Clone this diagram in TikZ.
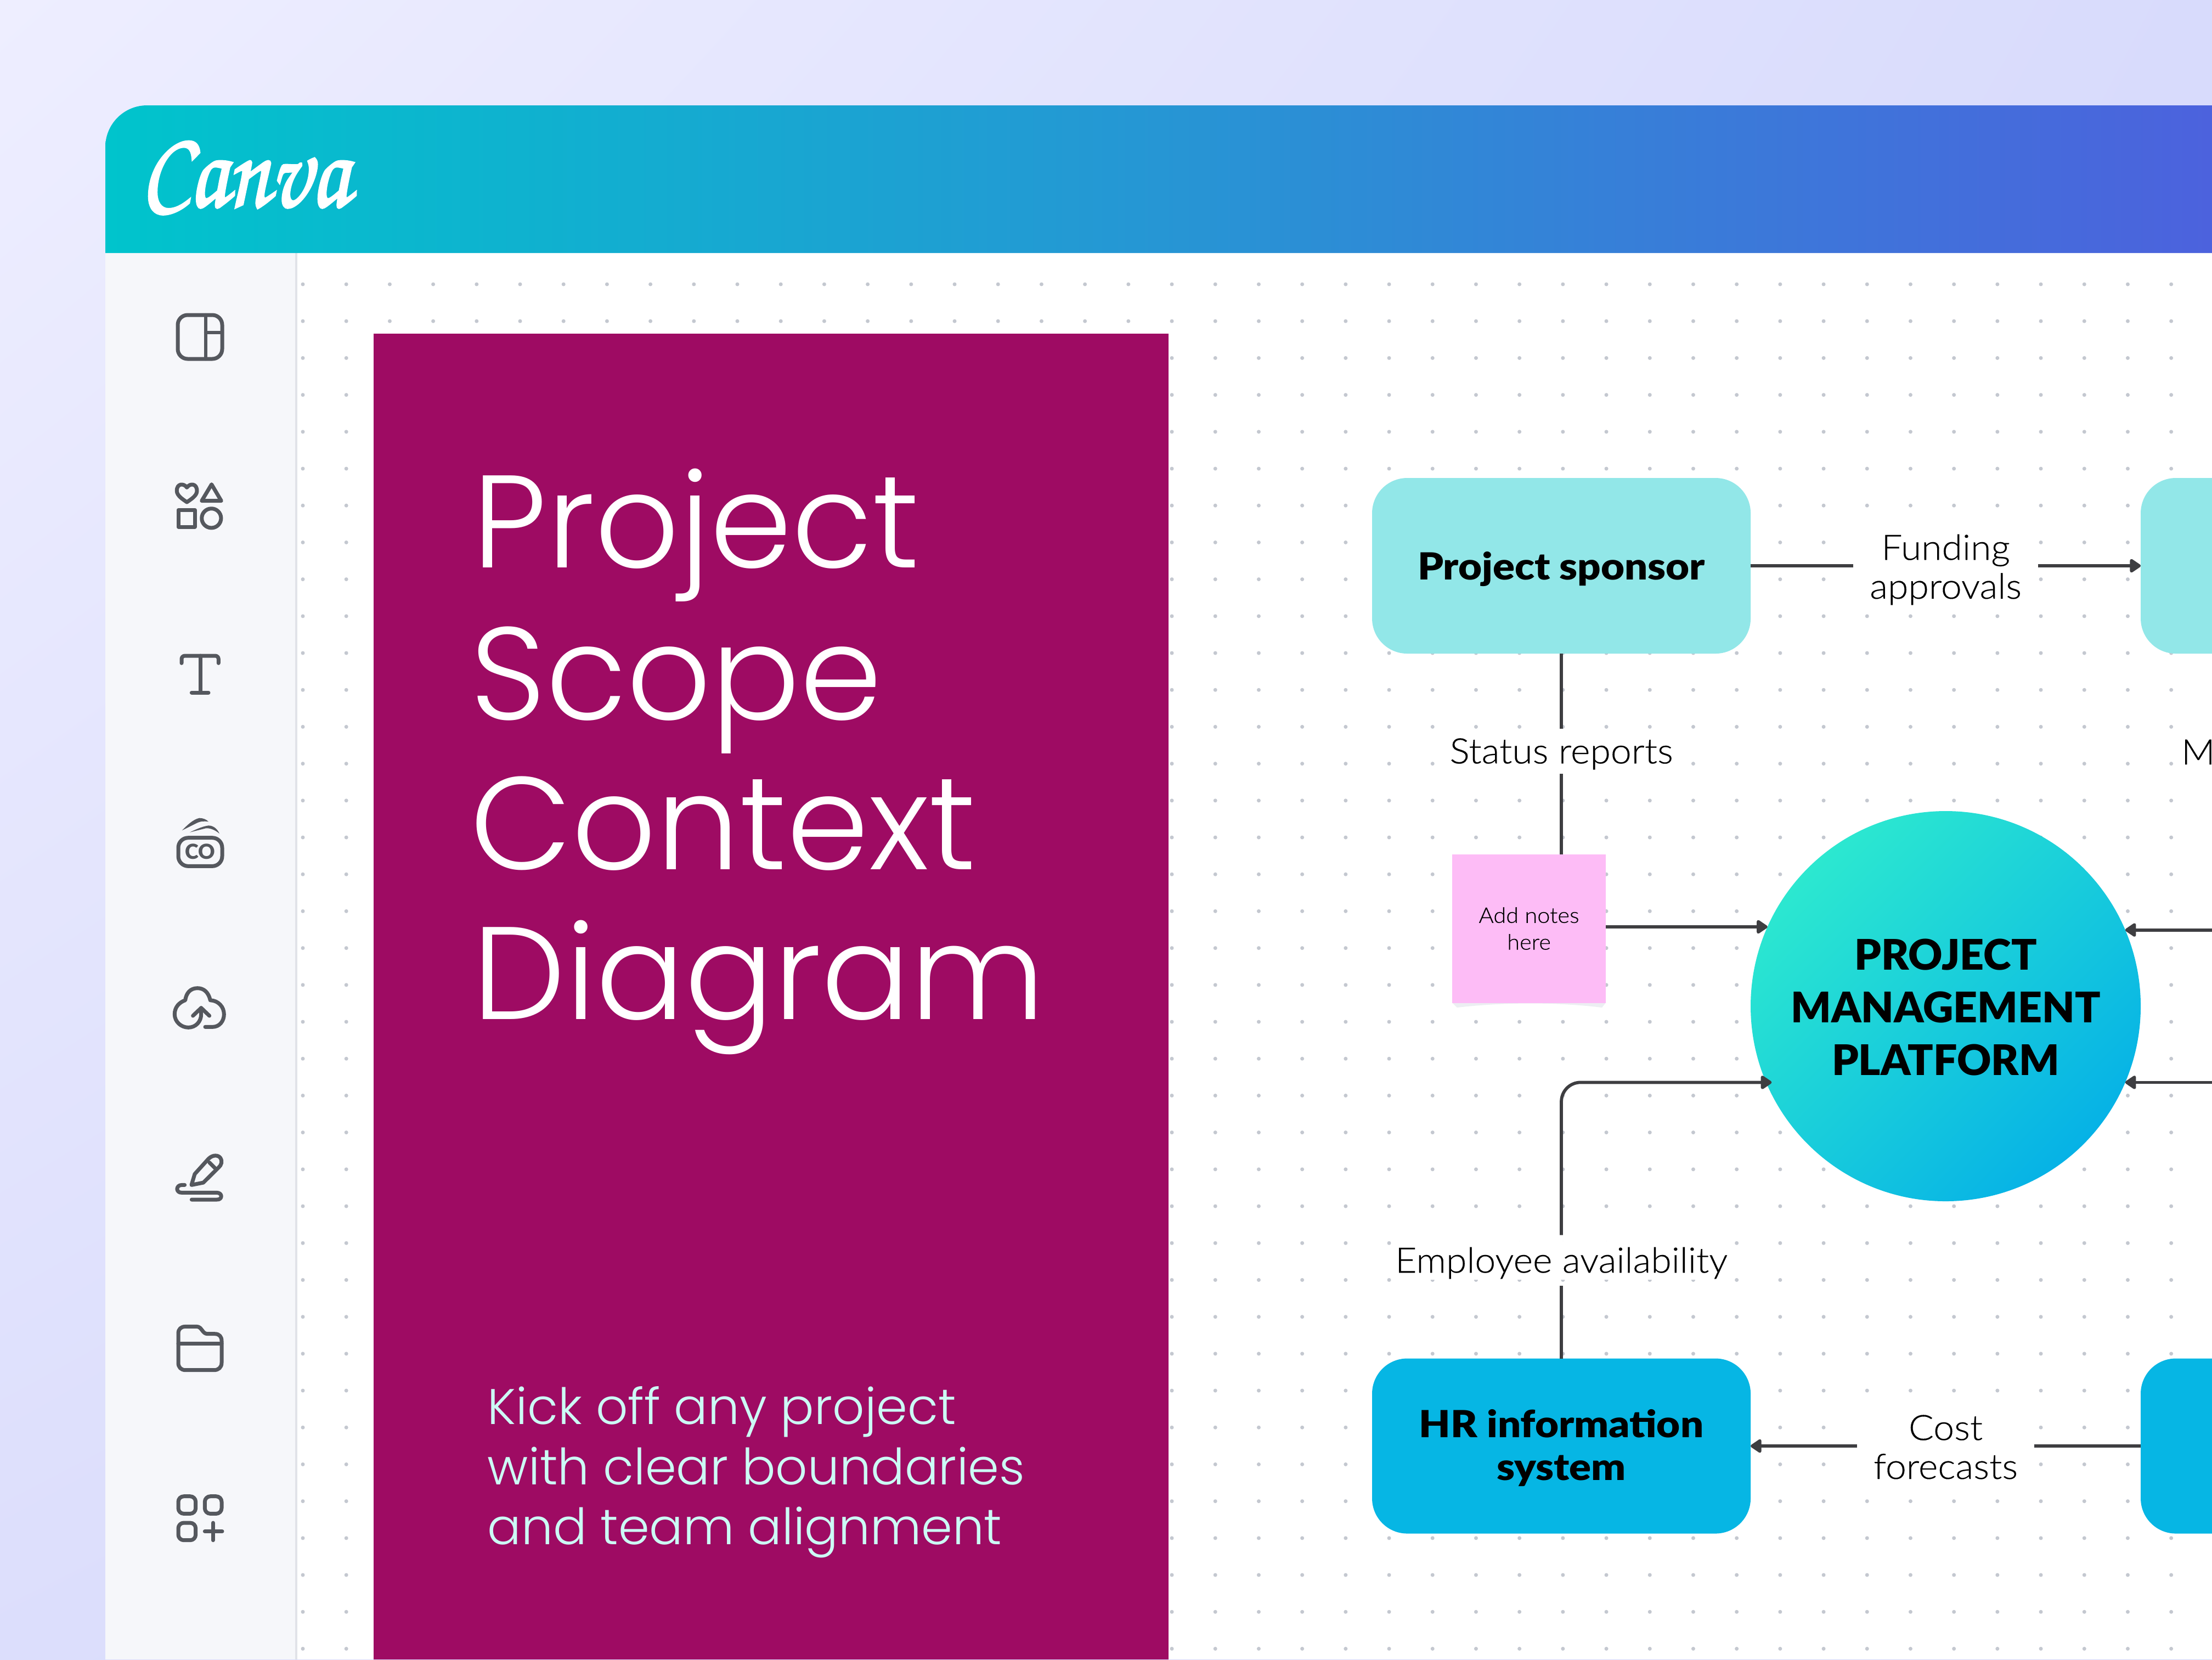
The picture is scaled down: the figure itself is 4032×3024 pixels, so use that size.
\documentclass[tikz,border=0pt]{standalone}
\usepackage{fontspec}
\usetikzlibrary{arrows.meta,calc,shadings}
\newfontfamily\ltfont[FakeStretch=1.06,FakeBold=0.25]{Lato Light}
\newfontfamily\regfont{Lato}
\newfontfamily\hvyfont{Lato Black}
\newfontfamily\bldfont[FakeStretch=1.09]{Lato Black}
\newfontfamily\ttlfont{Poppins Light}
\newcommand{\lowered}[2]{\raisebox{-#1}[\height][\depth]{\begin{tabular}{@{}c@{}}#2\end{tabular}}}
\definecolor{icon}{HTML}{55585E}
\definecolor{wire}{HTML}{3E3E41}
\definecolor{dotc}{HTML}{C4C8D0}
\definecolor{side}{HTML}{F6F7FA}
\definecolor{sideline}{HTML}{E1E3E8}
\definecolor{plum}{HTML}{9E0B63}
\definecolor{pale}{HTML}{CCFBF5}
\definecolor{aqua}{HTML}{92E7E8}
\definecolor{sky}{HTML}{06B6E4}
\definecolor{pinknote}{HTML}{FDBCF6}
\definecolor{noteshadow}{HTML}{ECEEF2}
\definecolor{bgul}{HTML}{EEEEFF}
\definecolor{bgur}{HTML}{D8DBFC}
\definecolor{bgll}{HTML}{DCDEFC}
\definecolor{bglr}{HTML}{D0D4FA}
\definecolor{hdl}{HTML}{00C4CC}
\definecolor{hdm}{HTML}{2696D4}
\definecolor{hdr}{HTML}{4C62DD}
\definecolor{hubtop}{HTML}{2CE8D0}
\definecolor{hubbot}{HTML}{06B2E6}
\tikzset{
  conn/.style={draw=wire,line width=1.45pt},
  arr/.style={conn,-{Triangle[length=5.5pt,width=7pt,round]}},
  boxnode/.style={rounded corners=16pt,minimum width=172.5pt,minimum height=80pt,inner sep=0pt,outer sep=0pt,align=center,font=\bldfont\fontsize{17}{19.6}\selectfont,text=black},
  wirelabel/.style={fill=white,inner xsep=0pt,inner ysep=0pt,outer sep=0pt,align=center,font=\ltfont\fontsize{16}{17.7}\selectfont,text=black},
  titletext/.style={anchor=base west,inner sep=0pt,text=white,font=\ttlfont\fontsize{60}{68}\selectfont},
  subtext/.style={anchor=base west,inner sep=0pt,text=pale,font=\ttlfont\fontsize{22.8}{27}\selectfont},
  ic/.style={draw=icon,line width=1.75pt,line cap=round,line join=round},
  zoomscope/.style={x=0.08333pt,y=-0.08333pt},
}
\begin{document}
\begin{tikzpicture}[x=0.25pt,y=-0.25pt]
\useasboundingbox (0,0) rectangle (4032,3024);
% backdrop
\shade[upper left=bgul,upper right=bgur,lower left=bgll,lower right=bglr] (0,0) rectangle (4032,3024);
% panel
\fill[white] (192,461) rectangle (4032,3024);
\fill[side] (192,461) rectangle (538,3024);
\fill[sideline] (538,461) rectangle (542,3024);
\foreach \i in {0,...,44}{\foreach \j in {0,...,37}{
  \fill[dotc] ({552+79.2*\i},{518+67.2*\j}) circle[radius=0.875pt];
}}
% header
\shade[left color=hdl,right color=hdr,middle color=hdm]
  (192,461) [rounded corners=19pt] -- (192,192) [sharp corners] -- (4032,192) -- (4032,461) -- cycle;
\node[anchor=base west,inner sep=0pt,text=white,font=\usefont{OT1}{pzc}{mb}{it}\fontsize{50}{50}\selectfont] (logo) at (256,376) {\special{pdf:literal 2 Tr 1.1 w}\scalebox{0.84}[1]{Canva}\special{pdf:literal 0 Tr 0 w}};
% title panel
\fill[plum] (681,608) rectangle (2130,3024);
\node[titletext] (t1) at (861,1034) {Project};
\node[titletext] (t2) at (857,1311) {Scope};
\node[titletext] (t3) at (857,1584) {Context};
\node[titletext] (t4) at (861,1857) {Diagram};
\node[subtext] (s1) at (888,2595) {Kick off any project};
\node[subtext] (s2) at (888,2705) {with clear boundaries};
\node[subtext] (s3) at (888,2814) {and team alignment};
% icons
\draw[ic,rounded corners=4.5pt] (324,574) rectangle (405,654);
\draw[ic,line width=1.6pt] (375,574) -- (375,654) (375,606) -- (405,606);
\begin{scope}[shift={(300,860)},zoomscope]
 \draw[ic] (122,85) .. controls (105,60) and (65,62) .. (67,105) .. controls (68,130) and (100,150) .. (122,165) .. controls (144,150) and (176,130) .. (177,105) .. controls (178,62) and (139,60) .. (122,85) -- cycle;
 \draw[ic] (257,68) -- (310,158) -- (203,158) -- cycle;
 \draw[ic] (75,208) rectangle (165,300);
 \draw[ic] (256,253) circle[radius=4.4pt];
\end{scope}
\begin{scope}[shift={(300,1165)},zoomscope]
 \draw[ic,rounded corners=1.5pt] (93,130) -- (93,90) -- (295,90) -- (295,130);
 \draw[ic] (195,90) -- (195,291) (148,291) -- (240,291);
\end{scope}
\begin{scope}[shift={(300,1470)},zoomscope]
 \draw[ic,rounded corners=4.5pt] (75,170) rectangle (315,325);
 \fill[icon] (95,130) .. controls (125,100) and (155,70) .. (190,62) .. controls (210,62) and (230,70) .. (240,82) .. controls (215,78) and (195,78) .. (165,95) -- cycle;
 \fill[icon] (138,140) .. controls (170,125) and (205,108) .. (240,103) .. controls (270,103) and (290,125) .. (300,147) .. controls (280,130) and (250,115) .. (225,118) -- cycle;
 \node[inner sep=0pt,text=icon,font=\hvyfont\fontsize{9.4}{9.4}\selectfont] (cotext) at (195,244) {CO};
\end{scope}
\begin{scope}[shift={(300,1780)},zoomscope]
 \draw[ic] (222,274) -- (262,274) .. controls (302,274) and (325,240) .. (325,205) .. controls (325,165) and (295,130) .. (250,128) .. controls (240,85) and (215,62) .. (180,62) .. controls (140,62) and (118,90) .. (113,128) .. controls (80,140) and (55,165) .. (55,205) .. controls (55,245) and (90,277) .. (130,277) .. controls (170,277) and (200,245) .. (200,205) -- (200,170);
 \draw[ic] (155,213) -- (200,170) -- (245,213);
\end{scope}
\begin{scope}[shift={(300,2080)},zoomscope]
 \draw[ic] (147,238) -- (165,178) -- (240,95) .. controls (265,70) and (295,75) .. (305,90) .. controls (318,110) and (310,130) .. (295,143) -- (212,225) -- cycle;
 \draw[ic] (245,115) -- (280,150);
 \draw[ic] (110,238) -- (95,238) .. controls (60,238) and (60,282) .. (95,280) -- (285,280) .. controls (318,280) and (318,320) .. (285,318) -- (148,318);
\end{scope}
\begin{scope}[shift={(300,2400)},zoomscope]
 \draw[ic] (75,146) -- (75,90) .. controls (75,65) and (90,52) .. (115,52) -- (175,52) .. controls (205,52) and (205,92) .. (235,92) -- (275,92) .. controls (300,92) and (312,108) .. (312,130) -- (312,250) .. controls (312,275) and (295,290) .. (270,290) -- (115,290) .. controls (90,290) and (75,275) .. (75,250) -- cycle;
 \draw[ic] (75,146) -- (312,146);
\end{scope}
\begin{scope}[shift={(300,2700)},zoomscope]
 \draw[ic,rounded corners=2.5pt] (75,80) rectangle (170,175);
 \draw[ic,rounded corners=2.5pt] (220,80) rectangle (312,175);
 \draw[ic,rounded corners=2.5pt] (75,225) rectangle (170,320);
 \draw[ic] (220,272) -- (315,272) (265,225) -- (265,320);
\end{scope}
% diagram nodes
\node[boxnode,fill=aqua] (sponsor) at (2846,1031) {\lowered{2.4pt}{Project sponsor}};
\node[boxnode,fill=aqua,anchor=west] (approver) at (3902,1031) {};
\node[boxnode,fill=sky,minimum height=79.75pt] (hr) at (2846,2635) {\lowered{2pt}{HR information\\system}};
\node[boxnode,fill=sky,minimum height=79.75pt,anchor=west] (finance) at (3902,2635) {};
\node[circle,minimum size=177.75pt,inner sep=0pt,outer sep=0pt,top color=hubtop,bottom color=hubbot,shading angle=45,align=center,text=black,font=\hvyfont\fontsize{19.2}{24}\selectfont] (hub) at (3546.5,1833.5) {\lowered{2.6pt}{PROJECT\\MANAGEMENT\\PLATFORM}};
% sticky note
\fill[noteshadow] (2647,1827) -- (2656,1836) .. controls (2740,1826) and (2840,1826) .. (2920,1836) -- (2927,1827) -- cycle;
\node[fill=pinknote,minimum width=70pt,minimum height=67.75pt,inner sep=0pt,outer sep=0pt,align=center,text=black,font=\ltfont\fontsize{9.8}{12.2}\selectfont] (note) at (2787,1692) {Add notes\\here};
% labels
\node[wirelabel,minimum width=84.25pt,minimum height=35pt] (funding) at (3546.5,1031) {\lowered{2.6pt}{Funding\\approvals}};
\node[wirelabel,minimum width=80.75pt,minimum height=35pt] (cost) at (3546.5,2635) {\lowered{2.6pt}{Cost\\forecasts}};
\node[wirelabel,minimum height=20.5pt] (status) at (2846,1369) {\lowered{2pt}{Status reports}};
\node[wirelabel,minimum height=15pt] (employee) at (2846,2297) {\lowered{2pt}{Employee availability}};
\node[wirelabel,fill=none,anchor=base west] (mlabel) at (3976,1393) {M};
\coordinate (rightup) at (4040,1692);
\coordinate (rightdown) at (4040,1975);
% connectors
\draw[conn] (sponsor.south) -- (status.north);
\draw[conn] (sponsor.east) -- (funding.west);
\draw[arr] (funding.east) -- (approver.west);
\draw[conn] (status.south) -- (status.south |- note.north);
\draw[arr] (note.east |- hub.156.55) -- (hub.156.55);
\draw[arr] (rightup |- hub.23.45) -- (hub.23.45);
\draw[arr] (rightdown |- hub.-23.45) -- (hub.-23.45);
\draw[conn] (hr.north) -- ([yshift=-2.75pt]employee.south);
\draw[arr,rounded corners=8.75pt,shorten >=-2.5pt] ([yshift=2.75pt]employee.north) |- (hub.203.45);
\draw[conn] (finance.west) -- (cost.east);
\draw[arr] (cost.west) -- (hr.east);
\end{tikzpicture}
\end{document}
